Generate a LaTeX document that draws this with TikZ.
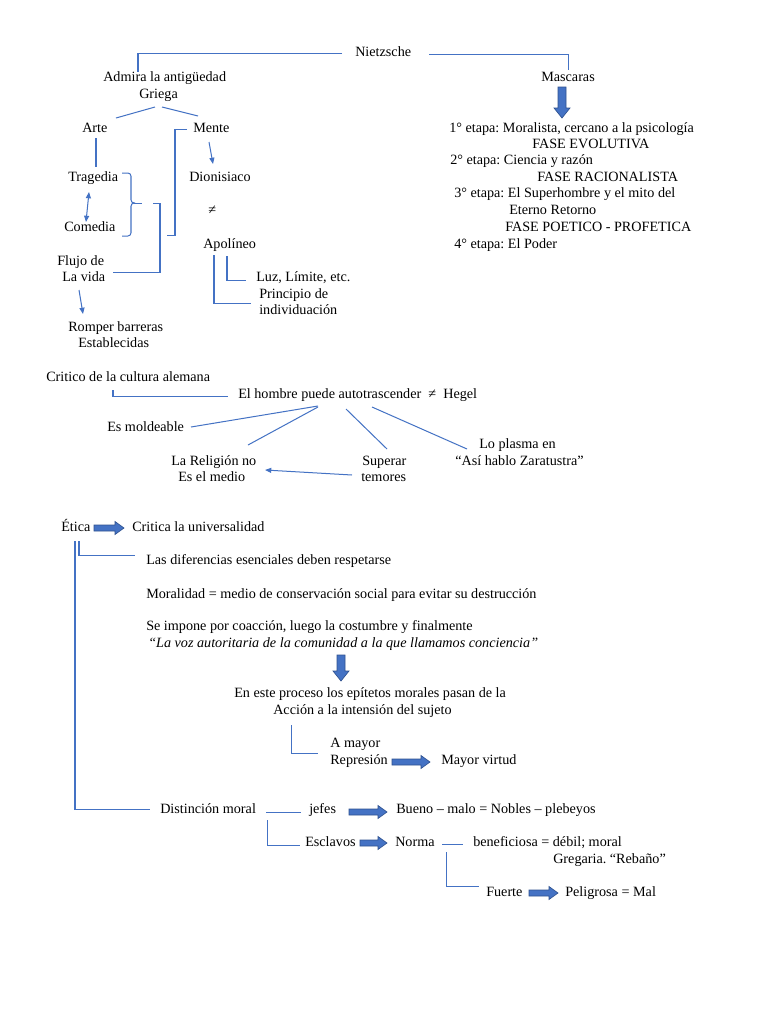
\documentclass[tikz,border=0pt]{standalone}
\usepackage{fontspec}
\setmainfont{Liberation Serif}
\usetikzlibrary{arrows.meta}
\frenchspacing
\definecolor{lnc}{HTML}{4472C4}
\definecolor{fatfill}{HTML}{4472C4}
\definecolor{fatedge}{HTML}{2F528F}
\newcommand\hfat[3]{\filldraw[fat] (#1,#3-3) -- (#2-9,#3-3) -- (#2-9,#3-6.5) -- (#2,#3) -- (#2-9,#3+6.5) -- (#2-9,#3+3) -- (#1,#3+3) -- cycle;}
\newcommand\vfat[3]{\filldraw[fat] (#1-4,#2) -- (#1+4,#2) -- (#1+4,#3-10) -- (#1+8,#3-10) -- (#1,#3) -- (#1-8,#3-10) -- (#1-4,#3-10) -- cycle;}
\begin{document}
\begin{tikzpicture}[x=0.797pt,y=-0.797pt,
  t/.style={anchor=base west,inner sep=0pt,yshift=-0.6pt,font=\fontsize{11.3}{13}\selectfont},
  ln/.style={draw=lnc,line width=0.8pt},
  arr/.style={ln,-{Triangle[length=5pt,width=4pt]}},
  darr/.style={ln,{Triangle[length=5pt,width=4pt]}-{Triangle[length=5pt,width=4pt]}},
  fat/.style={fill=fatfill,draw=fatedge,line width=0.5pt}]
\useasboundingbox[fill=white] (0,0) rectangle (768,1024);

% ---------- top part ----------
\node[t] (nie) at (355,56) {Nietzsche};
\node[t] (adm) at (103,81) {Admira la antigüedad};
\node[t] (gri) at (139,98) {Griega};
\node[t] (arte) at (82,132) {Arte};
\node[t] (mente) at (193,132) {Mente};
\node[t] (trag) at (68,181) {Tragedia};
\node[t] (com) at (64,231) {Comedia};
\node[t] (dio) at (189,181) {Dionisiaco};
\node[t] (neq) at (208,214) {≠};
\node[t] (apo) at (203,248) {Apolíneo};
\node[t] (luz) at (256,281) {Luz, Límite, etc.};
\node[t] (pri1) at (259,298) {Principio de};
\node[t] (pri2) at (259,314) {individuación};
\node[t] (flu1) at (57,265) {Flujo de};
\node[t] (flu2) at (62,281) {La vida};
\node[t] (rom1) at (68,331) {Romper barreras};
\node[t] (rom2) at (78,347) {Establecidas};

\coordinate (n1) at (342,53);
\coordinate (n2) at (138,53);
\coordinate (n3) at (138,72);
\draw[ln] (n1) -- (n2) -- (n3);
\coordinate (m1) at (429,54);
\coordinate (m2) at (568,54);
\coordinate (m3) at (568,70);
\draw[ln] (m1) -- (m2) -- (m3);

\draw[ln] (155,107) -- (116,118);
\draw[ln] (162,107) -- (198,116);
\draw[ln] (96,138) -- (96,167);
\draw[darr] (89,192) -- (86,222);
% brace
\draw[ln,rounded corners=2.5] (122,173) -- (131,173) -- (131,203) -- (135,203);
\draw[ln,rounded corners=2.5] (122,236) -- (131,236) -- (131,203) -- (135,203);
\draw[ln] (134,203) -- (142,203);
% Flujo bracket
\draw[ln] (153,203) -- (160,203) -- (160,272) -- (113,272);
% Mente bracket
\draw[ln] (187,129) -- (175,129) -- (175,235) -- (167,235);
\draw[arr] (209,142) -- (213,164);
% Apolineo brackets
\draw[ln] (227,256) -- (227,280) -- (246,280);
\draw[ln] (214,255) -- (214,303) -- (251,303);
\draw[arr] (79,290) -- (83,314);

% ---------- right part ----------
\node[t] (mas) at (541,81) {Mascaras};
\node[t] (e1) at (449,132) {1° etapa: Moralista, cercano a la psicología};
\node[t] (f1) at (532,148) {FASE EVOLUTIVA};
\node[t] (e2) at (450,164) {2° etapa: Ciencia y razón};
\node[t] (f2) at (537,181) {FASE RACIONALISTA};
\node[t] (e3) at (454,197) {3° etapa: El Superhombre y el mito del};
\node[t] (e3b) at (509,214) {Eterno Retorno};
\node[t] (f3) at (505,231) {FASE POETICO - PROFETICA};
\node[t] (e4) at (454,248) {4° etapa: El Poder};
\vfat{562}{87}{118}

% ---------- middle part ----------
\node[t] (cri) at (46,381) {Critico de la cultura alemana};
\node[t] (hom) at (238,398) {El hombre puede autotrascender~~≠~~Hegel};
\node[t] (mol) at (107,431) {Es moldeable};
\node[t] (rel1) at (171,465) {La Religión no};
\node[t] (rel2) at (178,481) {Es el medio};
\node[t] (sup1) at (362,465) {Superar};
\node[t] (sup2) at (361,481) {temores};
\node[t] (plas1) at (479,448) {Lo plasma en};
\node[t] (plas2) at (455,465) {“Así hablo Zaratustra”};

\draw[ln] (113,390) -- (113,396) -- (228,396);
\draw[ln] (318,406) -- (191,427);
\draw[ln] (318,407) -- (248,445);
\draw[ln] (346,409) -- (387,449);
\draw[ln] (372,407) -- (467,449);
\draw[arr] (352,475) -- (265,470);

% ---------- bottom part ----------
\node[t] (eti) at (61,531) {Ética};
\node[t] (cru) at (132,531) {Critica la universalidad};
\node[t] (dif) at (146,564) {Las diferencias esenciales deben respetarse};
\node[t] (mor) at (146,598) {Moralidad = medio de conservación social para evitar su destrucción};
\node[t] (imp) at (146,630) {Se impone por coacción, luego la costumbre y finalmente};
\node[t] (voz) at (148,647) {\itshape “La voz autoritaria de la comunidad a la que llamamos conciencia”};
\node[t] (pro1) at (234,697) {En este proceso los epítetos morales pasan de la};
\node[t] (pro2) at (273,714) {Acción a la intensión del sujeto};
\node[t] (may) at (330,747) {A mayor};
\node[t] (rep) at (330,764) {Represión};
\node[t] (vir) at (441,764) {Mayor virtud};
\node[t] (dis) at (160,813) {Distinción moral};
\node[t] (jef) at (309,813) {jefes};
\node[t] (bue) at (396,813) {Bueno – malo = Nobles – plebeyos};
\node[t] (esc) at (305,846) {Esclavos};
\node[t] (nor) at (395,846) {Norma};
\node[t] (ben) at (473,846) {beneficiosa = débil; moral};
\node[t] (gre) at (553,863) {Gregaria. “Rebaño”};
\node[t] (fue) at (486,896) {Fuerte};
\node[t] (pel) at (565,896) {Peligrosa = Mal};

\hfat{94}{124}{528}
\draw[ln] (79,541) -- (79,555) -- (135,555);
\draw[ln] (75,541) -- (75,809) -- (150,809);
\vfat{341}{655}{681}
\draw[ln] (291,725) -- (291,753) -- (318,753);
\hfat{392}{430}{762}
\draw[ln] (266,812) -- (301,812);
\hfat{349}{387}{812}
\draw[ln] (267,820) -- (267,845) -- (300,845);
\hfat{360}{387}{843}
\draw[ln] (442,844) -- (463,844);
\draw[ln] (446,852) -- (446,886) -- (479,886);
\hfat{529}{558}{893}
\end{tikzpicture}
\end{document}
